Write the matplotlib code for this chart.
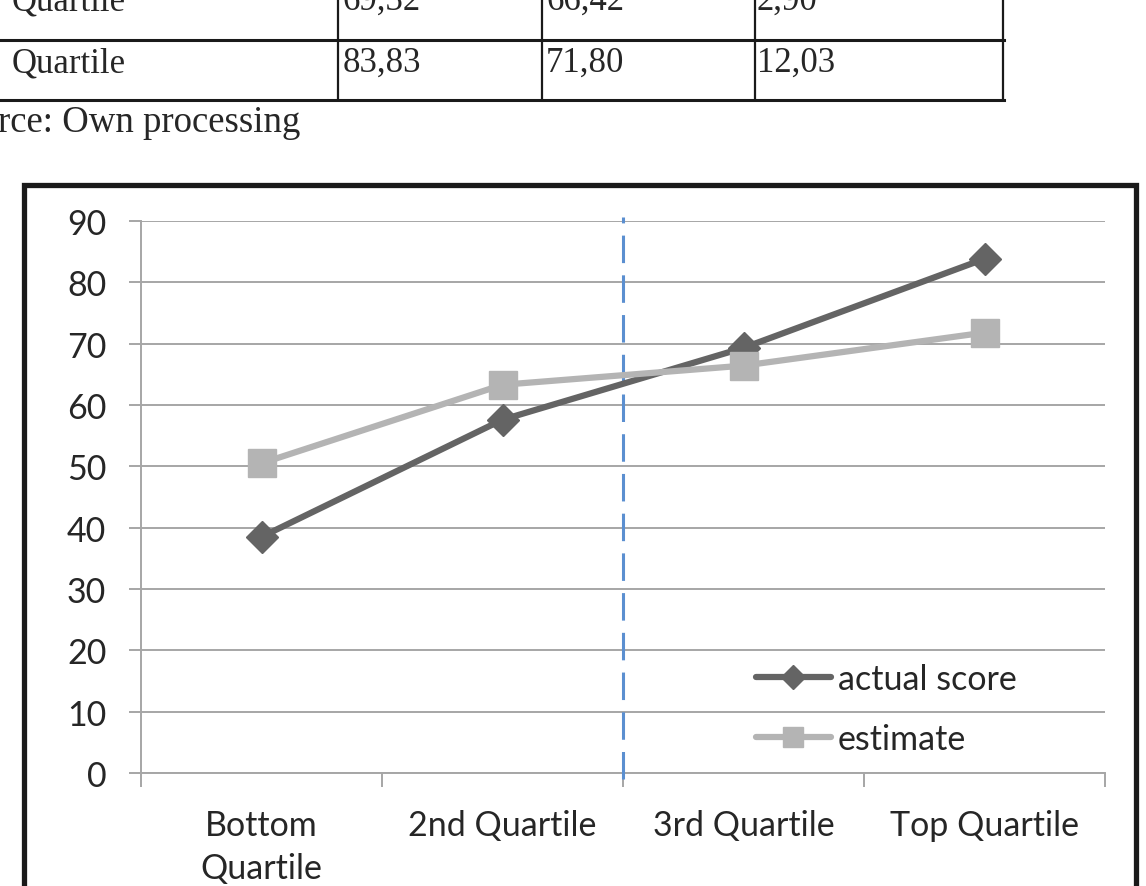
import matplotlib

matplotlib.use("Agg")
import matplotlib.pyplot as plt
from matplotlib.lines import Line2D
from matplotlib.patches import Rectangle

categories = ["Bottom\nQuartile", "2nd Quartile", "3rd Quartile", "Top Quartile"]
actual = [38.5, 57.6, 69.32, 83.83]
estimate = [50.5, 63.3, 66.42, 71.80]
yticks = list(range(0, 100, 10))

# rows of the table above the chart (only the last two are visible)
table_rows = ["Quartile", "Quartile"]
table_idx = [2, 3]

W, H = 1146, 887
DARK = "#646464"
LIGHT = "#b4b4b4"
GRID = "#a6a6a6"
TXT = "#262626"
SERIF = ["Liberation Serif", "DejaVu Serif"]
SANS = ["Lato", "DejaVu Sans"]
FS = 24.5

fig = plt.figure(figsize=(W / 100, H / 100), dpi=100)


def px(x, y):
    return x / W, 1 - y / H


# table fragment at the top
def hline(y, x0, x1, lw=2.2):
    fig.add_artist(Line2D([x0 / W, x1 / W], [1 - y / H] * 2, color="#1a1a1a",
                          lw=lw, transform=fig.transFigure))


def vline(x, y0, y1, lw=1.6):
    fig.add_artist(Line2D([x / W] * 2, [1 - y0 / H, 1 - y1 / H], color="#1a1a1a",
                          lw=lw, transform=fig.transFigure))


hline(40.5, 0, 1004)
hline(100.5, 0, 1004)
for xv in (338, 541.5, 755, 1003):
    vline(xv, -5, 101)

for row_y, label, i in zip((10, 72), table_rows, table_idx):
    vals = [actual[i], estimate[i], actual[i] - estimate[i]]
    fig.text(*px(12, row_y), label, fontsize=25, family=SERIF, color=TXT,
             va="baseline")
    for xv, v in zip((343, 546, 757), vals):
        fig.text(*px(xv, row_y), f"{v:.2f}".replace(".", ","), fontsize=25,
                 family=SERIF, color=TXT, va="baseline")

fig.text(*px(-2, 132), "rce: Own processing", fontsize=26.5, family=SERIF,
         color=TXT, va="baseline")

# chart frame
fig.add_artist(Rectangle(px(24, 920), (1136 - 24) / W, (920 - 186) / H,
                         fill=False, ec="#1a1a1a", lw=3.8,
                         transform=fig.transFigure))

ax = fig.add_axes([141 / W, 1 - 774 / H, (1105 - 141) / W, (774 - 222) / H])
x = list(range(len(categories)))

ax.plot(x, actual, color=DARK, lw=4.5, marker="D", ms=16, zorder=4,
        label="actual score", solid_capstyle="round")
ax.plot(x, estimate, color=LIGHT, lw=4.5, marker="s", ms=20, zorder=5,
        label="estimate", solid_capstyle="round")

ax.axvline(1.5, ymin=-0.01, ymax=1.008, color="#5b8fd0", lw=2.2,
           dashes=(9, 4), zorder=3, clip_on=False)

ax.set_xlim(-0.5, 3.5)
ax.set_ylim(0, 90)
ax.set_yticks(yticks)
ax.set_yticklabels([str(t) for t in yticks], fontsize=FS, family=SANS, color=TXT)
ax.yaxis.grid(True, color=GRID, lw=1.4, zorder=0)
ax.tick_params(axis="y", length=9, width=1.4, color=GRID, pad=16)

ax.set_xticks([i - 0.5 for i in range(len(categories) + 1)])
ax.set_xticklabels([])
ax.set_xticks(x, minor=True)
ax.set_xticklabels(categories, minor=True, fontsize=FS, family=SANS, color=TXT,
                   linespacing=1.4, va="top")
ax.tick_params(axis="x", which="major", length=10, width=1.4, color=GRID,
               direction="out")
ax.tick_params(axis="x", which="minor", length=0, pad=26)

for s in ("top", "right"):
    ax.spines[s].set_visible(False)
for s in ("left", "bottom"):
    ax.spines[s].set_color(GRID)
    ax.spines[s].set_linewidth(1.4)

leg = fig.legend(*ax.get_legend_handles_labels(), loc="upper left",
                 bbox_to_anchor=px(756, 664), frameon=False,
                 prop={"family": SANS, "size": FS}, handlelength=2.2,
                 handletextpad=0.2, labelspacing=0.83, markerscale=0.75,
                 borderpad=0, borderaxespad=0)
for t in leg.get_texts():
    t.set_color(TXT)

fig.savefig("out.png", dpi=100)
